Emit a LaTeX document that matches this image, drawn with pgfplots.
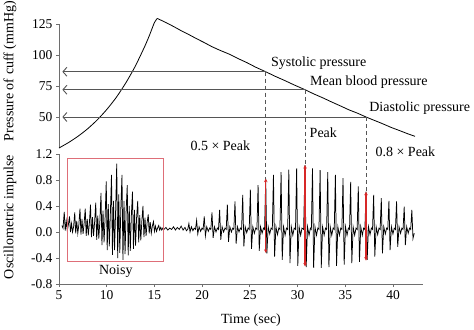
\documentclass[border=0pt]{standalone}
\usepackage{pgfplots}
\pgfplotsset{compat=1.18}
\usepackage{fontspec}
\setmainfont{Liberation Serif}
\usetikzlibrary{arrows.meta}
\definecolor{axgray}{RGB}{110,110,110}
\definecolor{arrgray}{RGB}{85,85,85}
\definecolor{boxred}{RGB}{222,110,120}
\definecolor{arred}{RGB}{215,40,40}
\begin{document}
\begin{tikzpicture}[font=\fontsize{14bp}{16bp}\selectfont]
\path[use as bounding box] (0,0) rectangle (474bp,-330bp);
% ---------- top axis: cuff pressure ----------
\begin{axis}[
  at={(59bp,-148bp)}, anchor=south west,
  scale only axis, width=364bp, height=124bp,
  xmin=5, xmax=43.14, ymin=25, ymax=125,
  axis x line=none, axis y line*=left,
  axis line style={axgray, line width=0.8pt},
  ytick={50,75,100,125},
  tick align=outside, major tick length=3bp,
  tick style={axgray, line width=0.8pt},
  tick label style={font=\fontsize{13.5bp}{15bp}\selectfont},
  /pgf/number format/assume math mode=true,
  clip=false,
]
\addplot[black, line width=0.8pt, smooth, tension=0.4] coordinates {
(5,25)(6,29.4)(7,34.5)(8,40.5)(9,47.6)(10,56.0)(11,65.8)(12,77.5)(13,91.1)(14,107.2)(14.5,116.3)(15,126.2)(15.3,129.5)
};
\addplot[black, line width=0.8pt] coordinates {
(15.3,129.5)
(16.2,126.2)(17.0,123.0)(17.8,119.6)(18.6,116.5)(19.4,113.2)(20.2,110.1)(21.0,106.8)(21.8,104.0)(22.9,100.5)
(23.8,97.0)(24.7,93.8)(25.6,90.2)(26.66,86.5)(27.6,83.0)(28.6,79.6)(29.6,76.0)(30.78,72)(31.7,68.6)(32.6,65.6)
(33.6,62.0)(34.5,58.9)(35.4,55.7)(36.3,53.0)(37.17,50)(38.0,47.4)(38.9,44.6)(39.8,41.6)(40.7,39.0)(41.5,36.6)(42.3,34.4)
};
\addplot[arrgray, line width=0.9pt, -{Straight Barb[length=4bp,width=9bp]}] coordinates {(26.66,86.5)(5.35,86.5)};
\addplot[arrgray, line width=0.9pt, -{Straight Barb[length=4bp,width=9bp]}] coordinates {(30.78,72)(5.35,72)};
\addplot[arrgray, line width=0.9pt, -{Straight Barb[length=4bp,width=9bp]}] coordinates {(37.17,50)(5.35,50)};
\coordinate (s1) at (axis cs:26.66,86.5);
\coordinate (m1) at (axis cs:30.78,72);
\coordinate (d1) at (axis cs:37.17,50);
\node[anchor=west, inner sep=0pt] at (axis cs:27.2,93.5) {Systolic pressure};
\node[anchor=west, inner sep=0pt] at (axis cs:31.3,78.2) {Mean blood pressure};
\node[anchor=west, inner sep=0pt] at (axis cs:37.5,57.3) {Diastolic pressure};
\node[anchor=east, inner sep=0pt] at (axis cs:25.05,26.6) {0.5 × Peak};
\node[anchor=west, inner sep=0pt] at (axis cs:31.25,37.1) {Peak};
\node[anchor=west, inner sep=0pt] at (axis cs:38.15,21.8) {0.8 × Peak};
\end{axis}
% ---------- bottom axis: oscillometric impulse ----------
\begin{axis}[
  at={(59bp,-284bp)}, anchor=south west,
  scale only axis, width=364bp, height=130bp,
  xmin=5, xmax=43.14, ymin=-0.8, ymax=1.2,
  axis lines*=left,
  axis line style={axgray, line width=0.8pt},
  xtick={5,10,15,20,25,30,35,40},
  ytick={-0.8,-0.4,0,0.4,0.8,1.2},
  yticklabel style={/pgf/number format/.cd, fixed, fixed zerofill, precision=1},
  tick align=outside, major tick length=3bp,
  tick style={axgray, line width=0.8pt},
  tick label style={font=\fontsize{13.5bp}{15bp}\selectfont},
  /pgf/number format/assume math mode=true,
  clip=false,
]
\addplot[black, line width=0.75pt] coordinates {
(5.3,0.10)(5.42,0.06)
(5.55,0.31)(5.65,0.02)(5.76,0.17)(5.87,0.02)(5.98,0.11)
(6.10,0.24)(6.20,0.00)(6.31,0.13)(6.42,0.00)(6.53,0.08)
(6.65,0.30)(6.75,-0.02)(6.86,0.17)(6.97,-0.02)(7.08,0.11)
(7.20,0.36)(7.30,-0.04)(7.41,0.20)(7.52,-0.03)(7.63,0.13)
(7.75,0.36)(7.85,-0.06)(7.96,0.20)(8.07,-0.05)(8.18,0.13)
(8.30,0.42)(8.40,-0.08)(8.51,0.23)(8.62,-0.06)(8.73,0.15)
(8.85,0.45)(8.95,-0.12)(9.06,0.25)(9.17,-0.10)(9.28,0.16)
(9.40,0.60)(9.50,-0.20)(9.61,0.33)(9.72,-0.16)(9.83,0.21)
(9.95,0.78)(10.05,-0.28)(10.16,0.43)(10.27,-0.22)(10.38,0.27)
(10.50,0.88)(10.60,-0.35)(10.71,0.48)(10.82,-0.28)(10.93,0.31)
(11.05,1.05)(11.15,-0.40)(11.26,0.58)(11.37,-0.32)(11.48,0.37)
(11.60,0.88)(11.70,-0.43)(11.81,0.48)(11.92,-0.34)(12.03,0.31)
(12.15,0.72)(12.25,-0.36)(12.36,0.40)(12.47,-0.29)(12.58,0.25)
(12.70,0.62)(12.80,-0.26)(12.91,0.34)(13.02,-0.21)(13.13,0.22)
(13.25,0.48)(13.35,-0.16)(13.46,0.26)(13.57,-0.13)(13.68,0.17)
(13.80,0.40)(13.90,-0.08)(14.01,0.22)(14.12,-0.06)(14.23,0.14)
(14.35,0.27)(14.45,-0.02)(14.56,0.15)(14.67,-0.02)(14.78,0.09)
(14.90,0.16)(15.00,0.01)(15.11,0.09)(15.22,0.01)(15.33,0.06)
(15.45,0.10)(15.55,0.03)(15.66,0.07)(15.77,0.03)(15.88,0.06)
(16.0,0.04)(16.2,0.07)(16.4,0.03)(16.6,0.06)(16.8,0.04)(17.0,0.08)(17.2,0.03)(17.4,0.07)(17.6,0.04)(17.8,0.09)(18.0,0.03)(18.2,0.07)(18.35,0.02)
(18.49,0.04)(18.61,0.13)(18.73,0.00)(18.87,0.08)(19.03,0.02)(19.17,0.06)
(19.30,0.04)(19.42,0.18)(19.54,-0.03)(19.68,0.08)(19.84,0.01)(19.98,0.06)
(20.10,0.04)(20.22,0.24)(20.34,-0.06)(20.48,0.08)(20.64,0.01)(20.78,0.06)
(20.91,0.04)(21.03,0.30)(21.15,-0.09)(21.29,0.08)(21.45,0.00)(21.59,0.06)
(21.71,0.04)(21.83,0.34)(21.95,-0.12)(22.09,0.08)(22.25,0.00)(22.39,0.06)
(22.52,0.04)(22.64,0.42)(22.76,-0.15)(22.90,0.08)(23.06,0.00)(23.20,0.06)
(23.32,0.04)(23.44,0.47)(23.56,-0.18)(23.70,0.08)(23.86,0.00)(24.00,0.06)
(24.13,0.04)(24.25,0.57)(24.37,-0.22)(24.51,0.08)(24.67,-0.01)(24.81,0.06)
(24.93,0.04)(25.05,0.65)(25.17,-0.26)(25.31,0.08)(25.47,-0.02)(25.61,0.06)
(25.74,0.04)(25.86,0.72)(25.98,-0.29)(26.12,0.08)(26.28,-0.02)(26.42,0.06)
(26.54,0.04)(26.66,0.82)(26.78,-0.33)(26.92,0.08)(27.08,-0.03)(27.22,0.06)
(27.35,0.04)(27.47,0.88)(27.59,-0.38)(27.73,0.08)(27.89,-0.04)(28.03,0.06)
(28.15,0.04)(28.27,0.92)(28.39,-0.43)(28.53,0.08)(28.69,-0.05)(28.83,0.06)
(28.96,0.04)(29.08,0.96)(29.20,-0.48)(29.34,0.08)(29.50,-0.05)(29.64,0.06)
(29.78,0.04)(29.90,0.98)(30.02,-0.52)(30.16,0.08)(30.32,-0.05)(30.46,0.06)
(30.63,0.04)(30.78,1.03)(30.90,-0.54)(31.04,0.08)(31.20,-0.05)(31.34,0.06)
(31.44,0.04)(31.56,0.98)(31.68,-0.55)(31.82,0.08)(31.98,-0.05)(32.12,0.06)
(32.24,0.04)(32.36,0.95)(32.48,-0.55)(32.62,0.08)(32.78,-0.05)(32.92,0.06)
(33.04,0.04)(33.16,0.92)(33.28,-0.54)(33.42,0.08)(33.58,-0.05)(33.72,0.06)
(33.84,0.04)(33.96,0.88)(34.08,-0.52)(34.22,0.08)(34.38,-0.05)(34.52,0.06)
(34.64,0.04)(34.76,0.83)(34.88,-0.50)(35.02,0.08)(35.18,-0.05)(35.32,0.06)
(35.44,0.04)(35.56,0.77)(35.68,-0.48)(35.82,0.08)(35.98,-0.05)(36.12,0.06)
(36.24,0.04)(36.36,0.70)(36.48,-0.46)(36.62,0.08)(36.78,-0.05)(36.92,0.06)
(37.05,0.04)(37.17,0.62)(37.29,-0.43)(37.43,0.08)(37.59,-0.04)(37.73,0.06)
(37.85,0.04)(37.97,0.57)(38.09,-0.38)(38.23,0.08)(38.39,-0.04)(38.53,0.06)
(38.65,0.04)(38.77,0.52)(38.89,-0.33)(39.03,0.08)(39.19,-0.03)(39.33,0.06)
(39.45,0.04)(39.57,0.48)(39.69,-0.28)(39.83,0.08)(39.99,-0.03)(40.13,0.06)
(40.25,0.04)(40.37,0.47)(40.49,-0.23)(40.63,0.08)(40.79,-0.02)(40.93,0.06)
(41.05,0.04)(41.17,0.39)(41.29,-0.20)(41.43,0.08)(41.59,-0.02)(41.73,0.06)
(41.85,0.04)(41.97,0.34)(42.09,-0.10)(42.22,-0.02)
};
% noisy box
\addplot[boxred, line width=0.8pt] coordinates {(5.9,-0.457)(15.97,-0.457)(15.97,1.13)(5.9,1.13)(5.9,-0.457)};
\node at (axis cs:10.95,-0.61) {Noisy};
% red peak arrows
\addplot[arred, line width=1.1pt, {Stealth[length=3.5bp,width=3.5bp]}-{Stealth[length=3.5bp,width=3.5bp]}] coordinates {(26.66,-0.32)(26.66,0.82)};
\addplot[arred, line width=1.1pt, {Stealth[length=3.5bp,width=3.5bp]}-{Stealth[length=3.5bp,width=3.5bp]}] coordinates {(30.78,-0.53)(30.78,1.03)};
\addplot[arred, line width=1.1pt, {Stealth[length=3.5bp,width=3.5bp]}-{Stealth[length=3.5bp,width=3.5bp]}] coordinates {(37.17,-0.44)(37.17,0.62)};
\coordinate (s2) at (axis cs:26.66,0.82);
\coordinate (m2) at (axis cs:30.78,1.03);
\coordinate (d2) at (axis cs:37.17,0.62);
\end{axis}
\draw[arrgray, line width=0.9pt, dash pattern=on 4bp off 3bp] (s1) -- (s2);
\draw[arrgray, line width=0.9pt, dash pattern=on 4bp off 3bp] (m1) -- (m2);
\draw[arrgray, line width=0.9pt, dash pattern=on 4bp off 3bp] (d1) -- (d2);
% axis titles
\node[rotate=90] at (10bp,-71bp) {Pressure of cuff (mmHg)};
\node[rotate=90] at (10bp,-217bp) {Oscillometric impulse};
\node at (251bp,-320bp) {Time (sec)};
\end{tikzpicture}
\end{document}
